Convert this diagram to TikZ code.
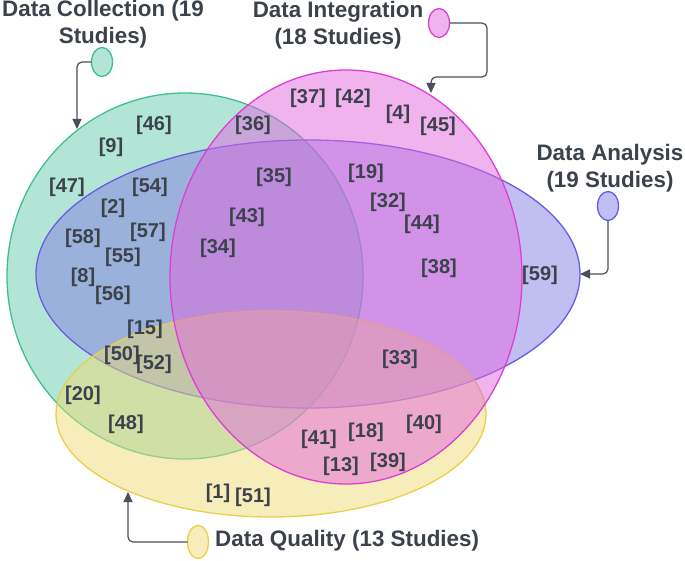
\documentclass[tikz,border=0pt]{standalone}
\usepackage{fontspec}
\setmainfont{Liberation Sans}
\usetikzlibrary{shapes.geometric,arrows.meta}
\definecolor{txt}{HTML}{3C424B}
\definecolor{gF}{RGB}{103,203,173}
\definecolor{gS}{HTML}{3FBF95}
\definecolor{pF}{RGB}{227,103,221}
\definecolor{pS}{HTML}{DD3FD5}
\definecolor{aF}{RGB}{131,125,227}
\definecolor{aS}{HTML}{6A5CE0}
\definecolor{yF}{RGB}{237,219,119}
\definecolor{yS}{HTML}{E8D04A}
\definecolor{connC}{HTML}{4A4F57}
\begin{document}
\begin{tikzpicture}[x=1pt,y=-1pt,
 setE/.style={ellipse, inner sep=0pt, outer sep=0pt, line width=1.3pt, fill opacity=0.5},
 dotE/.style={ellipse, inner sep=0pt, outer sep=0pt, line width=1.3pt, minimum width=21pt, minimum height=29pt},
 lab/.style={text=txt, font=\fontsize{20}{20}\selectfont\bfseries, inner sep=0pt},
 ttl/.style={text=txt, font=\fontsize{22.4}{27}\selectfont\bfseries, inner sep=0pt, align=center},
 conn/.style={draw=connC, line width=1.2pt, rounded corners=5pt, -{Triangle[length=10pt,width=9pt]}}]
\useasboundingbox (0,0) rectangle (685,561);

% sets
\node[setE, fill=gF, draw=gS, minimum width=356pt, minimum height=366pt] (gC) at (185,276) {};
\node[setE, fill=aF, draw=aS, minimum width=544pt, minimum height=268pt] (aN) at (308,274) {};
\node[setE, fill=yF, draw=yS, minimum width=430pt, minimum height=206pt] (qY) at (271,414) {};
\node[setE, fill=pF, draw=pS, minimum width=352pt, minimum height=414pt] (pI) at (346,277) {};

% small ovals
\node[dotE, fill=gF!50!white, draw=gS] (gO) at (102,62) {};
\node[dotE, fill=pF!50!white, draw=pS] (pO) at (439,23) {};
\node[dotE, fill=aF!50!white, draw=aS] (aO) at (608,206) {};
\node[dotE, fill=yF!50!white, draw=yS, minimum height=33pt] (qO) at (198,542) {};

% connector ends
\coordinate (gT) at (77,129);
\coordinate (pT) at (431,93);
\coordinate (qT) at (128,492);

\draw[conn] (gO.west) -| (gT);
\draw[conn] (pO.east) -- (487,23) -- (487,77) -- (431,77) -- (pT);
\draw[conn] (aO.south) |- (aN.east);
\draw[conn] (qO.west) -| (qT);

% titles
\node[ttl] (tC) at (103,24.5) {Data Collection (19\\Studies)};
\node[ttl] (tI) at (338,25) {Data Integration\\(18 Studies)};
\node[ttl] (tA) at (610,168.5) {Data Analysis\\(19 Studies)};
\node[ttl, anchor=west] (tQ) at (215,541) {Data Quality (13 Studies)};

% labels
\node[lab] (l46) at (154,125) {[46]};
\node[lab] (l9) at (111,147) {[9]};
\node[lab] (l47) at (67,187) {[47]};
\node[lab] (l54) at (150,187) {[54]};
\node[lab] (l2) at (113,208) {[2]};
\node[lab] (l58) at (83,238) {[58]};
\node[lab] (l57) at (148,232) {[57]};
\node[lab] (l55) at (123,257) {[55]};
\node[lab] (l8) at (83,277) {[8]};
\node[lab] (l56) at (113,295) {[56]};
\node[lab] (l34) at (218,248) {[34]};
\node[lab] (l37) at (308,98) {[37]};
\node[lab] (l42) at (353,98) {[42]};
\node[lab] (l4) at (398,114) {[4]};
\node[lab] (l45) at (438,126) {[45]};
\node[lab] (l36) at (253,125) {[36]};
\node[lab] (l35) at (274,177) {[35]};
\node[lab] (l19) at (366,173) {[19]};
\node[lab] (l32) at (388,202) {[32]};
\node[lab] (l44) at (422,224) {[44]};
\node[lab] (l43) at (247,217) {[43]};
\node[lab] (l38) at (439,268) {[38]};
\node[lab] (l59) at (540,275) {[59]};
\node[lab] (l15) at (145,329) {[15]};
\node[lab] (l50) at (122,355) {[50]};
\node[lab] (l52) at (154,364) {[52]};
\node[lab] (l20) at (83,395) {[20]};
\node[lab] (l48) at (126,424) {[48]};
\node[lab] (l33) at (400,359) {[33]};
\node[lab] (l41) at (319,439) {[41]};
\node[lab] (l18) at (366,432) {[18]};
\node[lab] (l40) at (424,424) {[40]};
\node[lab] (l13) at (341,466) {[13]};
\node[lab] (l39) at (388,462) {[39]};
\node[lab] (l1) at (218,493) {[1]};
\node[lab] (l51) at (253,497) {[51]};
\end{tikzpicture}
\end{document}
